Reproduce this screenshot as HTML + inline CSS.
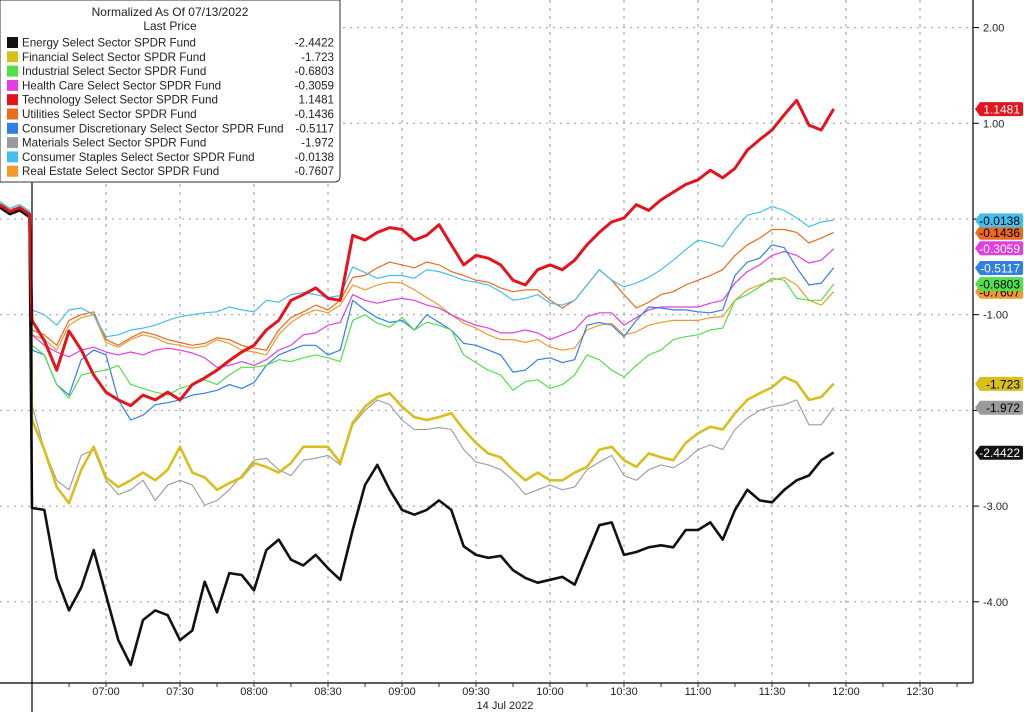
<!DOCTYPE html>
<html><head><meta charset="utf-8">
<style>
html,body{margin:0;padding:0;background:#fff;}
body{width:1024px;height:712px;overflow:hidden;font-family:"Liberation Sans",sans-serif;}
svg{display:block;}
</style></head>
<body>
<svg id="chart" width="1024" height="712" viewBox="0 0 1024 712" xmlns="http://www.w3.org/2000/svg">
  <g id="grid"></g>
  <g id="series"></g>
  <g id="axes"></g>
  <g id="tags"></g>
  <g id="legend"></g>
</svg>
<script>
const NS = "http://www.w3.org/2000/svg";
// ---- data ----
const seriesNames = ["Energy Select Sector SPDR Fund","Financial Select Sector SPDR Fund","Industrial Select Sector SPDR Fund","Health Care Select Sector SPDR Fund","Technology Select Sector SPDR Fund","Utilities Select Sector SPDR Fund","Consumer Discretionary Select Sector SPDR Fund","Materials Select Sector SPDR Fund","Consumer Staples Select Sector SPDR Fund","Real Estate Select Sector SPDR Fund"];
const lastPrices = ["-2.4422","-1.723","-0.6803","-0.3059","1.1481","-0.1436","-0.5117","-1.972","-0.0138","-0.7607"];
const preMinutes = [-13,-9,-5,-1];
const preValues = [0.15,0.08,0.12,0.05];
const energy = [-3.02,-3.04,-3.75,-4.09,-3.85,-3.46,-3.93,-4.40,-4.66,-4.19,-4.09,-4.14,-4.40,-4.30,-3.79,-4.11,-3.70,-3.72,-3.88,-3.46,-3.35,-3.56,-3.62,-3.51,-3.65,-3.77,-3.25,-2.78,-2.57,-2.83,-3.04,-3.09,-3.04,-2.94,-3.04,-3.42,-3.51,-3.54,-3.52,-3.67,-3.75,-3.80,-3.77,-3.74,-3.82,-3.51,-3.20,-3.17,-3.51,-3.48,-3.43,-3.41,-3.43,-3.25,-3.25,-3.17,-3.35,-3.04,-2.83,-2.94,-2.96,-2.83,-2.73,-2.68,-2.52,-2.44];
const financial = [-2.10,-2.41,-2.80,-2.97,-2.62,-2.38,-2.70,-2.80,-2.73,-2.65,-2.73,-2.62,-2.38,-2.65,-2.70,-2.83,-2.76,-2.70,-2.55,-2.59,-2.65,-2.55,-2.38,-2.38,-2.38,-2.55,-2.13,-1.96,-1.86,-1.82,-1.96,-2.07,-2.10,-2.07,-2.03,-2.20,-2.34,-2.45,-2.49,-2.62,-2.73,-2.65,-2.73,-2.73,-2.65,-2.59,-2.41,-2.38,-2.52,-2.59,-2.45,-2.49,-2.52,-2.34,-2.24,-2.17,-2.20,-2.03,-1.89,-1.82,-1.76,-1.65,-1.71,-1.89,-1.86,-1.72];
const industrial = [-1.32,-1.42,-1.73,-1.87,-1.63,-1.60,-1.58,-1.53,-1.73,-1.77,-1.81,-1.84,-1.77,-1.73,-1.68,-1.73,-1.63,-1.55,-1.55,-1.53,-1.47,-1.49,-1.45,-1.42,-1.45,-1.49,-1.06,-1.00,-1.09,-1.13,-1.03,-1.16,-1.08,-1.11,-1.16,-1.42,-1.50,-1.58,-1.63,-1.79,-1.70,-1.68,-1.77,-1.73,-1.63,-1.42,-1.47,-1.58,-1.65,-1.53,-1.42,-1.37,-1.26,-1.23,-1.21,-1.16,-1.14,-0.85,-0.79,-0.71,-0.62,-0.64,-0.83,-0.85,-0.85,-0.68];
const health = [-1.21,-1.32,-1.39,-1.44,-1.37,-1.34,-1.39,-1.42,-1.39,-1.42,-1.37,-1.35,-1.37,-1.40,-1.45,-1.55,-1.53,-1.49,-1.53,-1.47,-1.37,-1.32,-1.21,-1.19,-1.11,-1.08,-0.79,-0.85,-0.88,-0.85,-0.83,-0.85,-0.90,-0.93,-1.00,-1.06,-1.11,-1.14,-1.19,-1.19,-1.16,-1.19,-1.26,-1.21,-1.16,-1.02,-0.98,-0.98,-1.11,-1.03,-0.95,-0.92,-0.92,-0.92,-0.92,-0.88,-0.85,-0.67,-0.55,-0.48,-0.38,-0.34,-0.38,-0.46,-0.43,-0.31];
const technology = [-1.06,-1.27,-1.58,-1.17,-1.37,-1.63,-1.81,-1.89,-1.95,-1.84,-1.89,-1.81,-1.89,-1.73,-1.66,-1.58,-1.48,-1.39,-1.32,-1.16,-1.06,-0.85,-0.79,-0.72,-0.83,-0.85,-0.17,-0.22,-0.14,-0.09,-0.11,-0.22,-0.17,-0.06,-0.27,-0.48,-0.38,-0.41,-0.48,-0.64,-0.69,-0.53,-0.48,-0.53,-0.43,-0.27,-0.14,-0.03,0.01,0.15,0.09,0.20,0.28,0.36,0.41,0.51,0.43,0.53,0.72,0.83,0.93,1.09,1.24,0.98,0.93,1.15];
const utilities = [-1.16,-1.21,-1.32,-1.06,-1.00,-0.97,-1.26,-1.32,-1.24,-1.18,-1.21,-1.26,-1.29,-1.32,-1.30,-1.24,-1.26,-1.32,-1.35,-1.37,-1.16,-1.03,-0.97,-0.90,-0.95,-0.85,-0.61,-0.59,-0.51,-0.45,-0.48,-0.51,-0.45,-0.48,-0.55,-0.59,-0.64,-0.66,-0.72,-0.76,-0.74,-0.74,-0.85,-0.93,-0.85,-0.69,-0.53,-0.64,-0.79,-0.93,-0.87,-0.79,-0.76,-0.69,-0.64,-0.59,-0.53,-0.38,-0.27,-0.20,-0.11,-0.11,-0.14,-0.25,-0.20,-0.14];
const discretionary = [-1.37,-1.42,-1.73,-1.84,-1.47,-1.37,-1.42,-1.89,-2.10,-2.05,-1.94,-1.92,-1.89,-1.84,-1.82,-1.79,-1.73,-1.77,-1.71,-1.53,-1.42,-1.37,-1.32,-1.32,-1.42,-1.37,-0.85,-0.95,-1.03,-1.08,-1.06,-1.16,-1.00,-1.08,-1.16,-1.30,-1.32,-1.37,-1.42,-1.60,-1.58,-1.47,-1.45,-1.50,-1.47,-1.11,-1.08,-1.11,-1.23,-1.06,-0.92,-0.93,-0.95,-0.95,-0.97,-0.98,-0.95,-0.59,-0.45,-0.41,-0.27,-0.30,-0.51,-0.69,-0.67,-0.51];
const materials = [-1.94,-2.41,-2.73,-2.83,-2.47,-2.41,-2.73,-2.88,-2.83,-2.73,-2.94,-2.78,-2.73,-2.78,-2.99,-2.94,-2.83,-2.68,-2.52,-2.50,-2.62,-2.68,-2.52,-2.50,-2.47,-2.57,-2.15,-2.00,-1.89,-1.94,-2.10,-2.20,-2.20,-2.18,-2.20,-2.41,-2.54,-2.57,-2.62,-2.73,-2.88,-2.83,-2.78,-2.83,-2.80,-2.62,-2.54,-2.47,-2.68,-2.73,-2.62,-2.57,-2.60,-2.52,-2.41,-2.36,-2.41,-2.20,-2.08,-2.00,-1.96,-1.94,-1.89,-2.15,-2.15,-1.97];
const staples = [-0.95,-1.00,-1.11,-0.95,-0.93,-1.00,-1.23,-1.21,-1.16,-1.14,-1.11,-1.06,-1.02,-1.00,-0.98,-0.97,-0.92,-0.95,-0.97,-0.85,-0.87,-0.79,-0.77,-0.79,-0.82,-0.80,-0.50,-0.56,-0.62,-0.59,-0.59,-0.62,-0.53,-0.55,-0.59,-0.64,-0.66,-0.69,-0.76,-0.85,-0.83,-0.79,-0.88,-0.90,-0.85,-0.69,-0.53,-0.64,-0.71,-0.67,-0.61,-0.53,-0.43,-0.32,-0.22,-0.25,-0.29,-0.11,0.04,0.07,0.13,0.09,0.01,-0.08,-0.03,-0.01];
const realEstate = [-1.21,-1.26,-1.37,-1.11,-1.03,-1.00,-1.29,-1.34,-1.26,-1.21,-1.24,-1.30,-1.32,-1.35,-1.33,-1.26,-1.30,-1.37,-1.39,-1.42,-1.21,-1.08,-1.00,-0.95,-0.98,-0.90,-0.69,-0.74,-0.69,-0.66,-0.67,-0.74,-0.82,-0.90,-1.00,-1.09,-1.14,-1.21,-1.26,-1.26,-1.29,-1.26,-1.34,-1.37,-1.35,-1.16,-1.11,-1.09,-1.21,-1.18,-1.11,-1.08,-1.06,-1.06,-1.06,-1.03,-1.02,-0.85,-0.74,-0.69,-0.64,-0.61,-0.69,-0.85,-0.90,-0.76];
const yTicks = [2,1,0,-1,-2,-3,-4];
const xTickLabels = ["07:00","07:30","08:00","08:30","09:00","09:30","10:00","10:30","11:00","11:30","12:00","12:30"];
const xTickMinutes = [30,60,90,120,150,180,210,240,270,300,330,360];

// ---- style ----
const colors = ["#111111","#d9bf1c","#4fe04a","#e23ee2","#e3141b","#ea6a1e","#2f7fe6","#9a9a9a","#43bfee","#ef9a2e"];
const widths = [2.6,2.6,1.2,1.2,3,1.2,1.2,1.1,1.2,1.2];
const tagText = ["#fff","#000","#000","#fff","#fff","#000","#fff","#000","#000","#000"];
const allSeries = [energy,financial,industrial,health,technology,utilities,discretionary,materials,staples,realEstate];
const drawOrder = [9,5,3,6,2,8,7,1,0,4];
const tagOrder = [9,2,6,3,5,8,7,1,0,4];

const X0 = 32, PXM = 74/30, Y0 = 219, PXU = 95.7, AXR = 973, AXB = 683;
const xs = m => X0 + m*PXM;
const ys = v => Y0 - v*PXU;
function el(tag, attrs, parent){ const e=document.createElementNS(NS,tag); for(const k in attrs) e.setAttribute(k,attrs[k]); parent.appendChild(e); return e; }

const grid=document.getElementById('grid'), ser=document.getElementById('series'), axes=document.getElementById('axes'), tags=document.getElementById('tags'), leg=document.getElementById('legend');

// grid
yTicks.forEach(v=>{ const l=el('line',{x1:0,x2:AXR,y1:ys(v),y2:ys(v),stroke:'#9a9a9a','stroke-width':1,'stroke-dasharray':'2,5'},grid);

 });
xTickMinutes.forEach(m=>{ const l=el('line',{x1:xs(m),x2:xs(m),y1:0,y2:AXB,stroke:'#9a9a9a','stroke-width':1,'stroke-dasharray':'3,5'},grid);

 });

// series
drawOrder.forEach(si=>{
  const arr=allSeries[si]; let d='';
  preMinutes.forEach((m,i)=>{ d+=(i?'L':'M')+xs(m).toFixed(1)+','+ys(preValues[i]+(si%3-1)*0.03).toFixed(1); });
  arr.forEach((v,i)=>{ d+='L'+xs(i*5).toFixed(1)+','+ys(v).toFixed(1); });
  const p=el('path',{d:d,fill:'none',stroke:colors[si],'stroke-width':widths[si],'stroke-linejoin':'round'},ser);
  
  
});

// axes
let a=el('line',{x1:AXR,x2:AXR,y1:0,y2:AXB,stroke:'#000','stroke-width':1.2},axes);


a=el('line',{x1:0,x2:AXR,y1:AXB,y2:AXB,stroke:'#000','stroke-width':1.2},axes);


a=el('line',{x1:X0,x2:X0,y1:0,y2:712,stroke:'#000','stroke-width':1.2},axes);


yTicks.forEach(v=>{
  el('line',{x1:AXR,x2:AXR+6,y1:ys(v),y2:ys(v),stroke:'#000'},axes);
  const t=el('text',{x:AXR+10,y:ys(v)+4,'font-size':11,fill:'#222'},axes);
  t.textContent=v.toFixed(2);
  
  
});
for(let m=15;m<=375;m+=15){ el('line',{x1:xs(m),x2:xs(m),y1:AXB,y2:AXB+4,stroke:'#333'},axes); }
xTickMinutes.forEach((m,i)=>{
  const t=el('text',{x:xs(m),y:AXB+12,'font-size':11,'text-anchor':'middle',fill:'#222'},axes);
  t.textContent=xTickLabels[i];
  
  
});
let dl=el('text',{x:505,y:709,'font-size':11,'text-anchor':'middle',fill:'#222'},axes);
dl.textContent='14 Jul 2022';



// tags
tagOrder.forEach(si=>{
  const arr=allSeries[si]; const y=ys(parseFloat(lastPrices[si]));
  const g=el('g',{},tags);
  
  
  el('path',{d:`M${AXR+2},${y} L${AXR+7},${y-7} H1021 Q1023,${y-7} 1023,${y-5} V${y+5} Q1023,${y+7} 1021,${y+7} H${AXR+7} Z`,fill:colors[si]},g);
  const t=el('text',{x:1020,y:y+4.5,'font-size':12,'text-anchor':'end',fill:tagText[si]},g);
  t.textContent=lastPrices[si];
});

// legend
const box=el('path',{d:'M0,0 H340 V176 Q340,182 334,182 H0 Z',fill:'#fff',stroke:'#333','stroke-width':1},leg);


let tt=el('text',{x:170,y:16,'font-size':12,'text-anchor':'middle',fill:'#222'},leg);
tt.textContent='Normalized As Of 07/13/2022';


tt=el('text',{x:170,y:30,'font-size':12,'text-anchor':'middle',fill:'#222'},leg);
tt.textContent='Last Price';


seriesNames.forEach((n,i)=>{
  const y=41+i*14.3;
  const g=el('g',{},leg);
  
  
  el('rect',{x:7,y:y-4,width:11,height:11,fill:colors[i]},g);
  const t=el('text',{x:22,y:y+5.5,'font-size':11.6,fill:'#222'},g); t.textContent=n;
  const v=el('text',{x:334,y:y+5.5,'font-size':11.6,'text-anchor':'end',fill:'#222'},g); v.textContent=lastPrices[i];
});
</script>
</body></html>
